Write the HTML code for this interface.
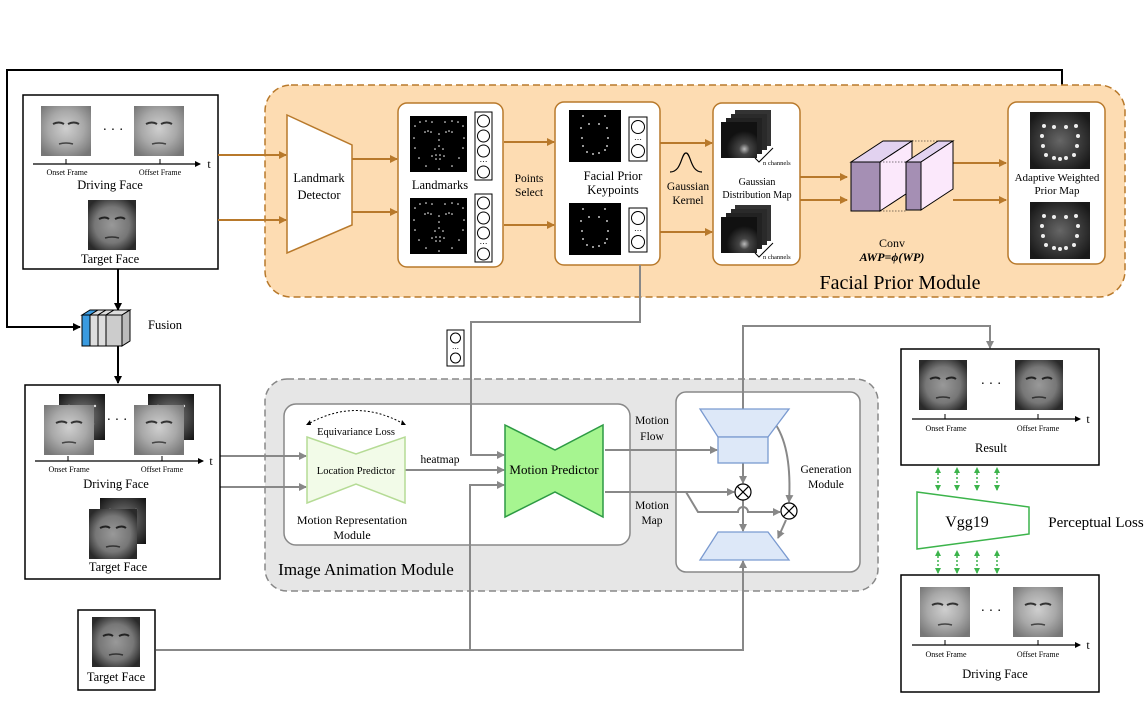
<!DOCTYPE html>
<html><head><meta charset="utf-8"><style>
html,body{margin:0;padding:0;background:#fff;}
svg{display:block;font-family:"Liberation Serif",serif;}
</style></head><body>
<svg width="1148" height="717" viewBox="0 0 1148 717" xmlns="http://www.w3.org/2000/svg">
<defs>
<radialGradient id="fm" cx="50%" cy="45%" r="65%"><stop offset="0" stop-color="#cfcfcf"/><stop offset="0.55" stop-color="#a8a8a8"/><stop offset="1" stop-color="#777"/></radialGradient>
<radialGradient id="ff" cx="50%" cy="50%" r="60%"><stop offset="0" stop-color="#999"/><stop offset="0.6" stop-color="#777"/><stop offset="1" stop-color="#2a2a2a"/></radialGradient>
<radialGradient id="hm" cx="50%" cy="50%" r="70%"><stop offset="0" stop-color="#888"/><stop offset="1" stop-color="#111"/></radialGradient>
<radialGradient id="gs" cx="65%" cy="75%" r="50%"><stop offset="0" stop-color="#bbb"/><stop offset="0.3" stop-color="#444"/><stop offset="1" stop-color="#111"/></radialGradient>
<radialGradient id="aw" cx="50%" cy="50%" r="60%"><stop offset="0" stop-color="#666"/><stop offset="1" stop-color="#1a1a1a"/></radialGradient>
<marker id="ao" markerWidth="8" markerHeight="8" refX="7" refY="4" orient="auto" markerUnits="userSpaceOnUse"><path d="M0,0 L8,4 L0,8 z" fill="#b8792b"/></marker>
<marker id="ag" markerWidth="8" markerHeight="8" refX="7" refY="4" orient="auto" markerUnits="userSpaceOnUse"><path d="M0,0 L8,4 L0,8 z" fill="#888"/></marker>
<marker id="ab" markerWidth="8" markerHeight="8" refX="7" refY="4" orient="auto" markerUnits="userSpaceOnUse"><path d="M0,0 L8,4 L0,8 z" fill="#000"/></marker>
<marker id="aG" markerWidth="6" markerHeight="6" refX="5" refY="3" orient="auto" markerUnits="userSpaceOnUse"><path d="M0,0 L6,3 L0,6 z" fill="#3cb44b"/></marker>
<marker id="ak" markerWidth="6" markerHeight="6" refX="5" refY="3" orient="auto" markerUnits="userSpaceOnUse"><path d="M0,0 L6,3 L0,6 z" fill="#000"/></marker>
<g id="male"><rect width="50" height="50" fill="url(#fm)"/><path d="M12,18 q6,-3 11,0 M27,18 q6,-3 11,0" stroke="#333" stroke-width="2" fill="none"/><path d="M18,38 q7,-2 14,0" stroke="#444" stroke-width="1.5" fill="none"/></g>
<g id="fem"><rect width="48" height="50" fill="url(#ff)"/><path d="M11,19 q6,-3 10,0 M27,19 q6,-3 10,0" stroke="#222" stroke-width="2" fill="none"/><path d="M17,38 q7,-2 14,0" stroke="#333" stroke-width="1.5" fill="none"/></g>
<g id="hmap"><rect width="46" height="46" fill="url(#hm)"/><g fill="#ddd"><circle cx="10" cy="12" r="1.2"/><circle cx="36" cy="12" r="1.2"/><circle cx="23" cy="22" r="1.2"/><circle cx="12" cy="30" r="1.2"/><circle cx="34" cy="30" r="1.2"/><circle cx="23" cy="38" r="1.2"/></g></g>
<g id="col"><rect width="17" height="68" fill="#fff" stroke="#000" stroke-width="1"/><circle cx="8.5" cy="9" r="6" fill="none" stroke="#000"/><circle cx="8.5" cy="24" r="6" fill="none" stroke="#000"/><circle cx="8.5" cy="39" r="6" fill="none" stroke="#000"/><text x="8.5" y="52" font-size="8" text-anchor="middle">⋯</text><circle cx="8.5" cy="60" r="6" fill="none" stroke="#000"/></g>
<g id="col2"><rect width="18" height="44" fill="#fff" stroke="#000" stroke-width="1"/><circle cx="9" cy="10" r="6.5" fill="none" stroke="#000"/><text x="9" y="25" font-size="8" text-anchor="middle">⋯</text><circle cx="9" cy="34" r="6.5" fill="none" stroke="#000"/></g>
<g id="lmk"><rect width="57" height="56" fill="#000"/><g fill="#fff"><circle cx="5" cy="10" r=".8"/><circle cx="10" cy="6" r=".8"/><circle cx="16" cy="5" r=".8"/><circle cx="22" cy="6" r=".8"/><circle cx="35" cy="6" r=".8"/><circle cx="42" cy="5" r=".8"/><circle cx="48" cy="6" r=".8"/><circle cx="53" cy="10" r=".8"/><circle cx="15" cy="16" r=".8"/><circle cx="18" cy="15" r=".8"/><circle cx="21" cy="16" r=".8"/><circle cx="36" cy="16" r=".8"/><circle cx="39" cy="15" r=".8"/><circle cx="42" cy="16" r=".8"/><circle cx="29" cy="18" r=".8"/><circle cx="29" cy="24" r=".8"/><circle cx="29" cy="30" r=".8"/><circle cx="25" cy="33" r=".8"/><circle cx="33" cy="33" r=".8"/><circle cx="22" cy="40" r=".8"/><circle cx="26" cy="39" r=".8"/><circle cx="30" cy="39" r=".8"/><circle cx="34" cy="40" r=".8"/><circle cx="26" cy="43" r=".8"/><circle cx="30" cy="43" r=".8"/><circle cx="4" cy="22" r=".8"/><circle cx="5" cy="32" r=".8"/><circle cx="9" cy="42" r=".8"/><circle cx="16" cy="50" r=".8"/><circle cx="29" cy="53" r=".8"/><circle cx="42" cy="50" r=".8"/><circle cx="49" cy="42" r=".8"/><circle cx="53" cy="32" r=".8"/><circle cx="54" cy="22" r=".8"/></g></g>
<g id="kp"><rect width="52" height="52" fill="#000"/><g fill="#fff"><circle cx="14" cy="6" r=".9"/><circle cx="36" cy="6" r=".9"/><circle cx="20" cy="14" r=".9"/><circle cx="30" cy="14" r=".9"/><circle cx="12" cy="18" r=".9"/><circle cx="38" cy="18" r=".9"/><circle cx="13" cy="28" r=".9"/><circle cx="39" cy="28" r=".9"/><circle cx="14" cy="36" r=".9"/><circle cx="38" cy="36" r=".9"/><circle cx="18" cy="42" r=".9"/><circle cx="24" cy="44" r=".9"/><circle cx="30" cy="43" r=".9"/><circle cx="36" cy="40" r=".9"/></g></g>
<g id="gst"><rect x="14" y="0" width="36" height="36" fill="#333"/><rect x="10" y="4" width="36" height="36" fill="#2a2a2a"/><rect x="5" y="8" width="36" height="36" fill="#222"/><rect x="0" y="12" width="36" height="36" fill="url(#gs)"/><path d="M34,48 l4,4 l14,-14" stroke="#000" fill="none" stroke-width="1"/></g>
<g id="awp"><rect width="60" height="57" fill="url(#aw)"/><g fill="#eee"><circle cx="14" cy="14" r="2"/><circle cx="46" cy="14" r="2"/><circle cx="24" cy="15" r="2"/><circle cx="36" cy="15" r="2"/><circle cx="12" cy="24" r="2"/><circle cx="48" cy="24" r="2"/><circle cx="13" cy="34" r="2"/><circle cx="47" cy="34" r="2"/><circle cx="16" cy="43" r="2"/><circle cx="24" cy="46" r="2"/><circle cx="30" cy="47" r="2"/><circle cx="36" cy="46" r="2"/><circle cx="44" cy="43" r="2"/></g></g>
</defs>

<path d="M1062,102 V70 H7 V327 H80" stroke="#000" stroke-width="2" fill="none" marker-end="url(#ab)"/>

<rect x="265" y="85" width="860" height="212" rx="26" fill="#fddcb2" stroke="#b8792b" stroke-width="1.5" stroke-dasharray="7,4"/>

<rect x="23" y="95" width="195" height="174" fill="#fff" stroke="#000" stroke-width="1.5"/>
<use href="#male" x="41" y="106"/><use href="#male" x="134" y="106"/>
<text x="113" y="134" font-size="14" text-anchor="middle">· · ·</text>
<line x1="33" y1="164" x2="200" y2="164" stroke="#000" stroke-width="1.2" marker-end="url(#ak)"/>
<line x1="66" y1="159" x2="66" y2="164" stroke="#000"/><line x1="160" y1="159" x2="160" y2="164" stroke="#000"/>
<text x="209" y="168" font-size="12" text-anchor="middle">t</text>
<text x="67" y="175" font-size="8" text-anchor="middle">Onset Frame</text>
<text x="160" y="175" font-size="8" text-anchor="middle">Offset Frame</text>
<text x="110" y="189" font-size="12.5" text-anchor="middle">Driving Face</text>
<use href="#fem" x="88" y="200"/>
<text x="110" y="263" font-size="12.5" text-anchor="middle">Target Face</text>

<line x1="118" y1="269" x2="118" y2="310" stroke="#000" stroke-width="2" marker-end="url(#ab)"/>
<g stroke="#000" stroke-width="1">
<polygon points="82,315 90,310 98,310 90,315" fill="#3a9be0"/>
<rect x="82" y="315" width="8" height="31" fill="#3a9be0"/>
<polygon points="90,315 98,310 106,310 98,315" fill="#ddd"/><rect x="90" y="315" width="8" height="31" fill="#ddd"/>
<polygon points="98,315 106,310 114,310 106,315" fill="#ddd"/><rect x="98" y="315" width="8" height="31" fill="#ddd"/>
<polygon points="106,315 114,310 130,310 122,315" fill="#ddd"/><polygon points="122,315 130,310 130,341 122,346" fill="#bbb"/><rect x="106" y="315" width="16" height="31" fill="#ccc"/>
</g>
<text x="148" y="329" font-size="12.5">Fusion</text>
<line x1="118" y1="346" x2="118" y2="383" stroke="#000" stroke-width="2" marker-end="url(#ab)"/>

<g stroke="#b8792b" stroke-width="2" marker-end="url(#ao)">
<line x1="218" y1="155" x2="286" y2="155"/><line x1="218" y1="220" x2="286" y2="220"/>
<line x1="352" y1="159" x2="397" y2="159"/><line x1="352" y1="212" x2="397" y2="212"/>
<line x1="504" y1="142" x2="554" y2="142"/><line x1="504" y1="225" x2="554" y2="225"/>
<line x1="660" y1="143" x2="712" y2="143"/><line x1="660" y1="232" x2="712" y2="232"/>
<line x1="800" y1="177" x2="847" y2="177"/><line x1="800" y1="200" x2="847" y2="200"/>
<line x1="953" y1="163" x2="1006" y2="163"/><line x1="953" y1="200" x2="1006" y2="200"/>
</g>
<polygon points="287,115 352,145 352,225 287,253" fill="#fff" stroke="#b8792b" stroke-width="1.5"/>
<text x="319" y="182" font-size="12.5" text-anchor="middle">Landmark</text>
<text x="319" y="199" font-size="12.5" text-anchor="middle">Detector</text>

<rect x="398" y="103" width="105" height="164" rx="9" fill="#fff" stroke="#b8792b" stroke-width="1.5"/>
<use href="#lmk" x="410" y="116"/><use href="#lmk" x="410" y="198"/>
<use href="#col" x="475" y="112"/><use href="#col" x="475" y="194"/>
<text x="440" y="189" font-size="12.5" text-anchor="middle">Landmarks</text>
<text x="529" y="182" font-size="11.5" text-anchor="middle">Points</text>
<text x="529" y="196" font-size="11.5" text-anchor="middle">Select</text>

<rect x="555" y="102" width="105" height="163" rx="9" fill="#fff" stroke="#b8792b" stroke-width="1.5"/>
<use href="#kp" x="569" y="110"/><use href="#kp" x="569" y="203"/>
<use href="#col2" x="629" y="117"/><use href="#col2" x="629" y="208"/>
<text x="613" y="180" font-size="12.5" text-anchor="middle">Facial Prior</text>
<text x="613" y="194" font-size="12.5" text-anchor="middle">Keypoints</text>
<path d="M670,172 C682,172 681,153 686,153 C691,153 690,172 702,172" stroke="#000" fill="none" stroke-width="1.2"/>
<text x="688" y="190" font-size="11.5" text-anchor="middle">Gaussian</text>
<text x="688" y="204" font-size="11.5" text-anchor="middle">Kernel</text>

<rect x="713" y="103" width="87" height="162" rx="9" fill="#fff" stroke="#b8792b" stroke-width="1.5"/>
<use href="#gst" x="721" y="110"/><use href="#gst" x="721" y="205"/>
<text x="763" y="165" font-size="6.5">n channels</text>
<text x="763" y="259" font-size="6.5">n channels</text>
<text x="757" y="185" font-size="10" text-anchor="middle">Gaussian</text>
<text x="757" y="198" font-size="10" text-anchor="middle">Distribution Map</text>

<g stroke="#000" stroke-width="1">
<polygon points="851,162 883,141 912,141 880,162" fill="#e2d2f0"/>
<polygon points="880,162 912,141 912,190 880,211" fill="#fbe8fb"/>
<rect x="851" y="162" width="29" height="49" fill="#a58fb4"/>
<polygon points="906,162 938,141 953,141 921,162" fill="#e2d2f0"/>
<polygon points="921,162 953,141 953,189 921,210" fill="#fbe8fb"/>
<rect x="906" y="162" width="15" height="48" fill="#a58fb4"/>
</g>
<g stroke="#000" stroke-width=".6" stroke-dasharray="1.5,1.5"><line x1="912" y1="141" x2="938" y2="141"/><line x1="880" y1="162" x2="906" y2="162"/><line x1="880" y1="211" x2="906" y2="211"/></g>
<text x="892" y="247" font-size="12" text-anchor="middle">Conv</text>
<text x="892" y="261" font-size="12" font-weight="bold" font-style="italic" text-anchor="middle">AWP=ϕ(WP)</text>

<rect x="1008" y="102" width="97" height="162" rx="9" fill="#fff" stroke="#b8792b" stroke-width="1.5"/>
<use href="#awp" x="1030" y="112"/><use href="#awp" x="1030" y="202"/>
<text x="1057" y="181" font-size="11" text-anchor="middle">Adaptive Weighted</text>
<text x="1057" y="194" font-size="11" text-anchor="middle">Prior Map</text>
<text x="900" y="289" font-size="20" text-anchor="middle">Facial Prior Module</text>

<rect x="265" y="379" width="613" height="212" rx="22" fill="#e6e6e6" stroke="#888" stroke-width="1.5" stroke-dasharray="7,4"/>
<rect x="284" y="404" width="346" height="141" rx="12" fill="#fff" stroke="#888" stroke-width="1.5"/>
<rect x="676" y="392" width="184" height="180" rx="10" fill="#fff" stroke="#888" stroke-width="1.5"/>

<g stroke="#888" stroke-width="2" fill="none" marker-end="url(#ag)">
<path d="M640,265 V322 H471 V455 H504"/>
<line x1="218" y1="456" x2="306" y2="456"/><line x1="218" y1="487" x2="306" y2="487"/>
<line x1="405" y1="470" x2="504" y2="470"/>
<path d="M156,650 H470 V485 H504"/>
<path d="M470,650 H743 V561"/>
<line x1="605" y1="450" x2="717" y2="450"/>
<line x1="605" y1="492" x2="734" y2="492"/>
<path d="M686,492 L698,512 H738 a5,5 0 0 1 10,0 H780"/>
<line x1="743" y1="463" x2="743" y2="483"/>
<line x1="743" y1="500" x2="743" y2="531"/>
<path d="M776,425 Q792,450 789,502"/>
<line x1="786" y1="520" x2="778" y2="538"/>
<path d="M743,409 V326 H990 V348"/>
</g>
<rect x="447" y="330" width="17" height="36" fill="#fff" stroke="#000"/>
<circle cx="455.5" cy="338" r="5" fill="none" stroke="#000"/><text x="455.5" y="351" font-size="7" text-anchor="middle">⋯</text><circle cx="455.5" cy="358" r="5" fill="none" stroke="#000"/>

<path d="M310,423 Q356,398 402,423" stroke="#000" fill="none" stroke-width="1" stroke-dasharray="2,2"/>
<path d="M306,425 l4,-5 l1,5 z M406,425 l-4,-5 l-1,5 z" fill="#000"/>
<text x="356" y="435" font-size="10.5" text-anchor="middle">Equivariance Loss</text>
<polygon points="307,437 356,454 405,437 405,503 356,484 307,503" fill="#f2fbe8" stroke="#b5db95" stroke-width="1.5"/>
<text x="356" y="474" font-size="10.5" text-anchor="middle">Location Predictor</text>
<text x="352" y="524" font-size="12" text-anchor="middle">Motion Representation</text>
<text x="352" y="539" font-size="12" text-anchor="middle">Module</text>
<text x="440" y="463" font-size="11.5" text-anchor="middle">heatmap</text>
<polygon points="505,425 555,450 603,425 603,517 555,492 505,517" fill="#a6f590" stroke="#2d9a44" stroke-width="1.5"/>
<text x="554" y="474" font-size="13" text-anchor="middle">Motion Predictor</text>
<text x="652" y="424" font-size="11.5" text-anchor="middle">Motion</text>
<text x="652" y="440" font-size="11.5" text-anchor="middle">Flow</text>
<text x="652" y="509" font-size="11.5" text-anchor="middle">Motion</text>
<text x="652" y="524" font-size="11.5" text-anchor="middle">Map</text>

<g fill="#dde8f8" stroke="#7a9ad0" stroke-width="1.3">
<polygon points="700,409 789,409 768,437 718,437"/>
<rect x="718" y="437" width="50" height="26"/>
<polygon points="718,532 768,532 789,560 700,560"/>
</g>
<g fill="#fff" stroke="#000" stroke-width="1.2">
<circle cx="743" cy="492" r="8"/><path d="M737.3,486.3 l11.4,11.4 M748.7,486.3 l-11.4,11.4"/>
<circle cx="789" cy="511" r="8"/><path d="M783.3,505.3 l11.4,11.4 M794.7,505.3 l-11.4,11.4"/>
</g>
<text x="826" y="473" font-size="11.5" text-anchor="middle">Generation</text>
<text x="826" y="488" font-size="11.5" text-anchor="middle">Module</text>
<text x="366" y="575" font-size="17" text-anchor="middle">Image Animation Module</text>

<rect x="25" y="385" width="195" height="194" fill="#fff" stroke="#000" stroke-width="1.5"/>
<use href="#hmap" x="59" y="394"/><use href="#male" x="44" y="405"/>
<use href="#hmap" x="148" y="394"/><use href="#male" x="134" y="405"/>
<text x="117" y="424" font-size="14" text-anchor="middle">· · ·</text>
<line x1="35" y1="461" x2="203" y2="461" stroke="#000" stroke-width="1.2" marker-end="url(#ak)"/>
<line x1="68" y1="456" x2="68" y2="461" stroke="#000"/><line x1="162" y1="456" x2="162" y2="461" stroke="#000"/>
<text x="211" y="465" font-size="12" text-anchor="middle">t</text>
<text x="69" y="472" font-size="8" text-anchor="middle">Onset Frame</text>
<text x="162" y="472" font-size="8" text-anchor="middle">Offset Frame</text>
<text x="116" y="488" font-size="12.5" text-anchor="middle">Driving Face</text>
<use href="#hmap" x="100" y="498"/><use href="#fem" x="89" y="509"/>
<text x="118" y="571" font-size="12.5" text-anchor="middle">Target Face</text>

<rect x="78" y="610" width="77" height="80" fill="#fff" stroke="#000" stroke-width="1.5"/>
<use href="#fem" x="92" y="617"/>
<text x="116" y="681" font-size="12.5" text-anchor="middle">Target Face</text>

<rect x="901" y="349" width="198" height="116" fill="#fff" stroke="#000" stroke-width="1.5"/>
<use href="#fem" x="919" y="360"/><use href="#fem" x="1015" y="360"/>
<text x="991" y="388" font-size="14" text-anchor="middle">· · ·</text>
<line x1="912" y1="419" x2="1080" y2="419" stroke="#000" stroke-width="1.2" marker-end="url(#ak)"/>
<line x1="945" y1="414" x2="945" y2="419" stroke="#000"/><line x1="1038" y1="414" x2="1038" y2="419" stroke="#000"/>
<text x="1088" y="423" font-size="12" text-anchor="middle">t</text>
<text x="946" y="431" font-size="8" text-anchor="middle">Onset Frame</text>
<text x="1038" y="431" font-size="8" text-anchor="middle">Offset Frame</text>
<text x="991" y="452" font-size="12.5" text-anchor="middle">Result</text>

<polygon points="917,492 1029,507 1029,534 917,549" fill="#fff" stroke="#3cb44b" stroke-width="1.5"/>
<text x="967" y="527" font-size="16" text-anchor="middle">Vgg19</text>
<text x="1096" y="527" font-size="15" text-anchor="middle">Perceptual Loss</text>
<g stroke="#3cb44b" stroke-width="1.5" stroke-dasharray="2,2" marker-end="url(#aG)">
<line x1="938" y1="469" x2="938" y2="490"/><line x1="957" y1="469" x2="957" y2="490"/><line x1="977" y1="469" x2="977" y2="490"/><line x1="997" y1="469" x2="997" y2="490"/>
<line x1="938" y1="552" x2="938" y2="573"/><line x1="957" y1="552" x2="957" y2="573"/><line x1="977" y1="552" x2="977" y2="573"/><line x1="997" y1="552" x2="997" y2="573"/>
</g>
<g fill="#3cb44b"><path d="M935,473 l3,-6 l3,6z M954,473 l3,-6 l3,6z M974,473 l3,-6 l3,6z M994,473 l3,-6 l3,6z M935,556 l3,-6 l3,6z M954,556 l3,-6 l3,6z M974,556 l3,-6 l3,6z M994,556 l3,-6 l3,6z"/></g>

<rect x="901" y="575" width="198" height="117" fill="#fff" stroke="#000" stroke-width="1.5"/>
<use href="#male" x="920" y="587"/><use href="#male" x="1013" y="587"/>
<text x="991" y="615" font-size="14" text-anchor="middle">· · ·</text>
<line x1="912" y1="645" x2="1080" y2="645" stroke="#000" stroke-width="1.2" marker-end="url(#ak)"/>
<line x1="945" y1="640" x2="945" y2="645" stroke="#000"/><line x1="1038" y1="640" x2="1038" y2="645" stroke="#000"/>
<text x="1088" y="649" font-size="12" text-anchor="middle">t</text>
<text x="946" y="657" font-size="8" text-anchor="middle">Onset Frame</text>
<text x="1038" y="657" font-size="8" text-anchor="middle">Offset Frame</text>
<text x="995" y="678" font-size="12.5" text-anchor="middle">Driving Face</text>
</svg>
</body></html>
